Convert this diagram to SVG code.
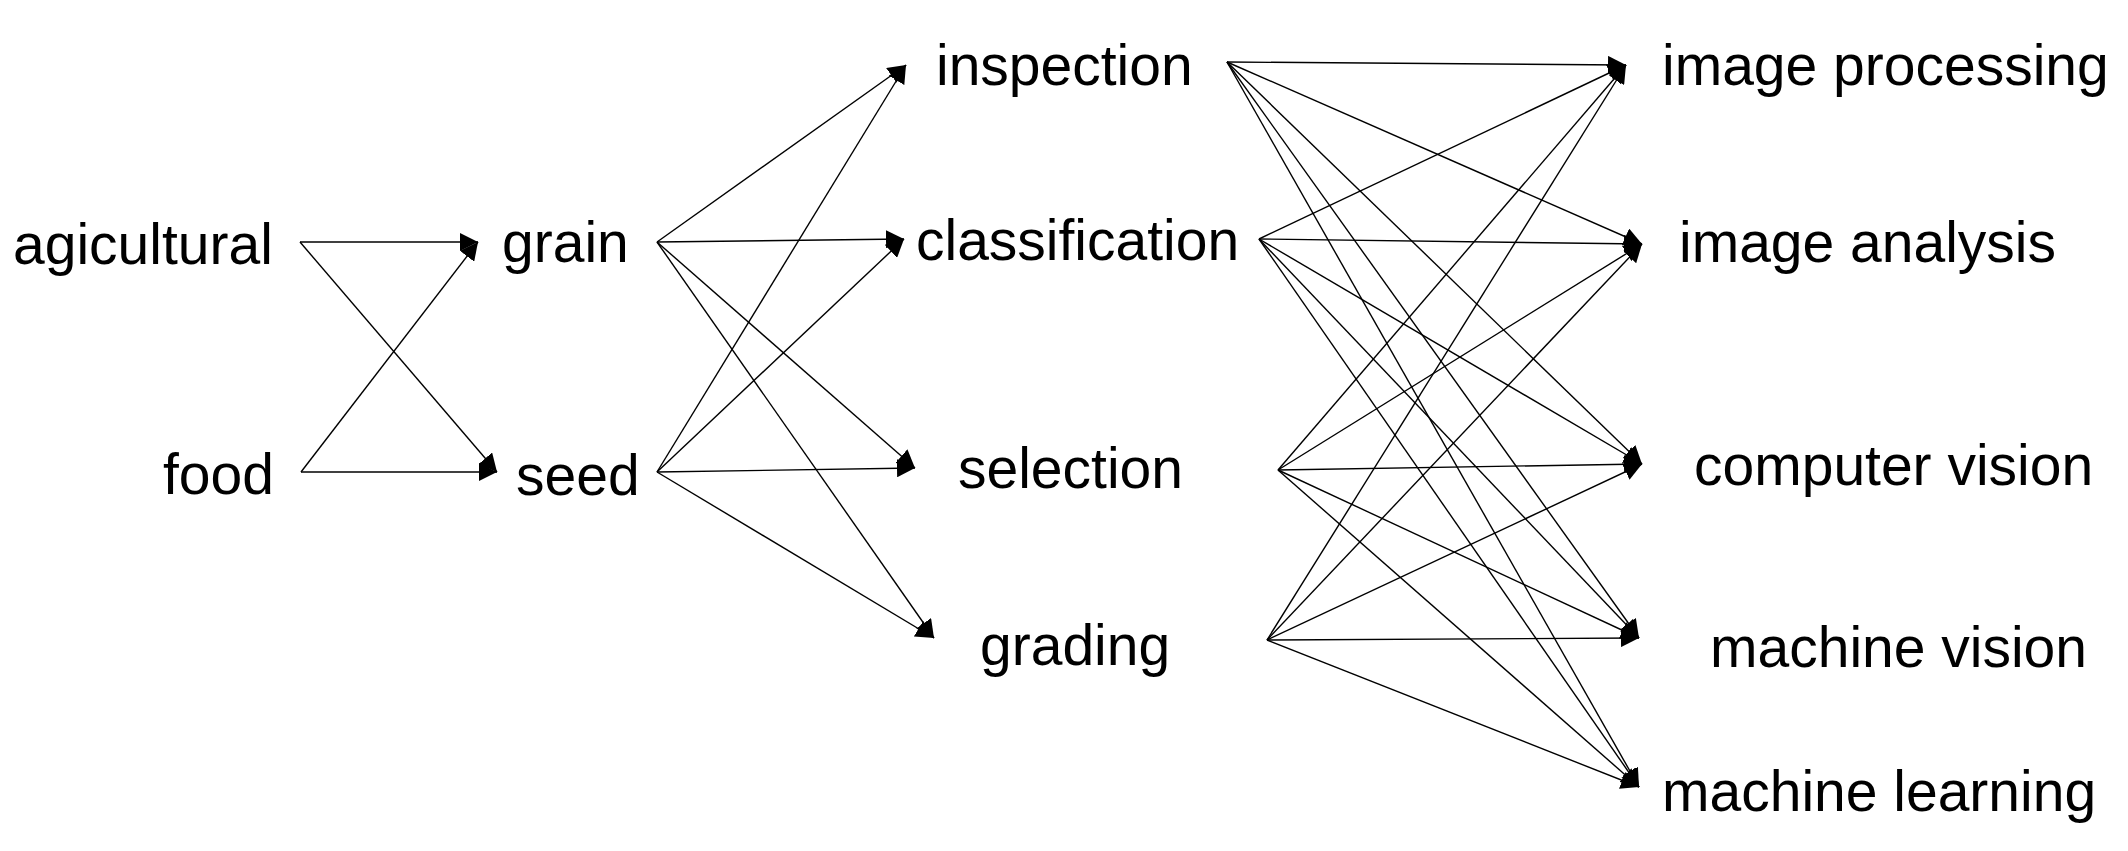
<svg xmlns="http://www.w3.org/2000/svg" width="2128" height="851" viewBox="0 0 2128 851">
<style>
text{font-family:"Liberation Sans",Arial,sans-serif;font-size:57px;fill:#000;dominant-baseline:central}
line{stroke:#000;stroke-width:1.4}
</style>
<defs><marker id="a" viewBox="0 0 10 10" refX="10" refY="5" markerWidth="18" markerHeight="18" markerUnits="userSpaceOnUse" orient="auto"><path d="M0,0L10,5L0,10z"/></marker></defs>
<rect width="2128" height="851" fill="#fff"/>
<g id="n-agicultural"><text x="13" y="244">agicultural</text></g>
<g id="n-food"><text x="163" y="474">food</text></g>
<g id="n-grain"><text x="502" y="242">grain</text></g>
<g id="n-seed"><text x="516" y="475">seed</text></g>
<g id="n-inspection"><text x="936" y="65">inspection</text></g>
<g id="n-classification"><text x="916" y="240">classification</text></g>
<g id="n-selection"><text x="958" y="468">selection</text></g>
<g id="n-grading"><text x="980" y="645">grading</text></g>
<g id="n-ip"><text x="1662" y="65">image processing</text></g>
<g id="n-ia"><text x="1679" y="242">image analysis</text></g>
<g id="n-cv"><text x="1694" y="465">computer vision</text></g>
<g id="n-mv"><text x="1710" y="647">machine vision</text></g>
<g id="n-ml"><text x="1662" y="791">machine learning</text></g>
<g id="connectors" marker-end="url(#a)">
<line x1="300" y1="242" x2="478" y2="242" marker-end="url(#a)"/>
<line x1="300" y1="242" x2="497" y2="472" marker-end="url(#a)"/>
<line x1="301" y1="472" x2="478" y2="242" marker-end="url(#a)"/>
<line x1="301" y1="472" x2="497" y2="472" marker-end="url(#a)"/>
<line x1="657" y1="242" x2="906" y2="65" marker-end="url(#a)"/>
<line x1="657" y1="242" x2="904" y2="239" marker-end="url(#a)"/>
<line x1="657" y1="242" x2="915" y2="468" marker-end="url(#a)"/>
<line x1="657" y1="242" x2="934" y2="638" marker-end="url(#a)"/>
<line x1="657" y1="472" x2="906" y2="65" marker-end="url(#a)"/>
<line x1="657" y1="472" x2="904" y2="239" marker-end="url(#a)"/>
<line x1="657" y1="472" x2="915" y2="468" marker-end="url(#a)"/>
<line x1="657" y1="472" x2="934" y2="638" marker-end="url(#a)"/>
<line x1="1227" y1="62" x2="1626" y2="65" marker-end="url(#a)"/>
<line x1="1227" y1="62" x2="1642" y2="244" marker-end="url(#a)"/>
<line x1="1227" y1="62" x2="1642" y2="464" marker-end="url(#a)"/>
<line x1="1227" y1="62" x2="1639" y2="638" marker-end="url(#a)"/>
<line x1="1227" y1="62" x2="1639" y2="787" marker-end="url(#a)"/>
<line x1="1259" y1="239" x2="1626" y2="65" marker-end="url(#a)"/>
<line x1="1259" y1="239" x2="1642" y2="244" marker-end="url(#a)"/>
<line x1="1259" y1="239" x2="1642" y2="464" marker-end="url(#a)"/>
<line x1="1259" y1="239" x2="1639" y2="638" marker-end="url(#a)"/>
<line x1="1259" y1="239" x2="1639" y2="787" marker-end="url(#a)"/>
<line x1="1278" y1="470" x2="1626" y2="65" marker-end="url(#a)"/>
<line x1="1278" y1="470" x2="1642" y2="244" marker-end="url(#a)"/>
<line x1="1278" y1="470" x2="1642" y2="464" marker-end="url(#a)"/>
<line x1="1278" y1="470" x2="1639" y2="638" marker-end="url(#a)"/>
<line x1="1278" y1="470" x2="1639" y2="787" marker-end="url(#a)"/>
<line x1="1267" y1="640" x2="1626" y2="65" marker-end="url(#a)"/>
<line x1="1267" y1="640" x2="1642" y2="244" marker-end="url(#a)"/>
<line x1="1267" y1="640" x2="1642" y2="464" marker-end="url(#a)"/>
<line x1="1267" y1="640" x2="1639" y2="638" marker-end="url(#a)"/>
<line x1="1267" y1="640" x2="1639" y2="787" marker-end="url(#a)"/>
</g>
</svg>
